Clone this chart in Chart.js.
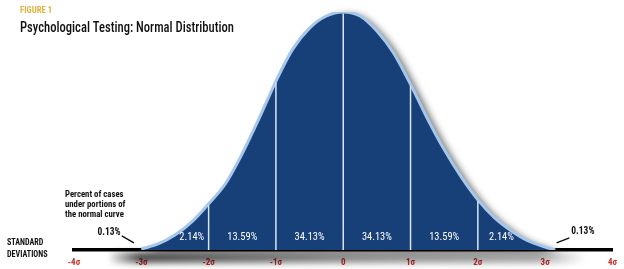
<!DOCTYPE html>
<html><head><meta charset="utf-8">
<script src="https://cdn.jsdelivr.net/npm/chart.js@4.4.0/dist/chart.umd.min.js"></script>
<style>html,body{margin:0;padding:0;background:#fff}#wrap{width:624px;height:269px;position:relative}</style>
</head><body><div id="wrap"><canvas id="c" width="624" height="269"></canvas></div>
<script>
const figureLabel = 'FIGURE 1';
const chartTitle = 'Psychological Testing: Normal Distribution';
const axisCaption = ['STANDARD', 'DEVIATIONS'];
const noteLines = ['Percent of cases', 'under portions of', 'the normal curve'];
const tickValues = [-4, -3, -2, -1, 0, 1, 2, 3, 4];
const tickLabels = ['-4σ', '-3σ', '-2σ', '-1σ', '0', '1σ', '2σ', '3σ', '4σ'];
const sigmaSteps = [-3, -2.75, -2.5, -2.25, -2, -1.75, -1.5, -1.25, -1, -0.75, -0.5, -0.25, 0, 0.25, 0.5, 0.75, 1, 1.25, 1.5, 1.75, 2, 2.25, 2.5, 2.75, 3, 3.15];
const curveHeight = [1, 6, 15, 28, 46, 66, 96, 131, 168, 200, 221, 233, 237, 233, 218, 196, 165, 131, 100, 73, 50, 32, 19, 9, 3, 0];
const dividerSigmas = [-2, -1, 0, 1, 2];
const innerPercents = ['2.14%', '13.59%', '34.13%', '34.13%', '13.59%', '2.14%'];
const innerLabelSigma = [-2.25, -1.5, -0.5, 0.5, 1.5, 2.35];
const tailPercents = ['0.13%', '0.13%'];

const NARROW = "'Liberation Sans Narrow','Arial Narrow','Roboto Condensed',Roboto,sans-serif";
const NAVY = '#173f78';

function squeezeText(ctx, text, x, y, sx) {
  ctx.save();
  ctx.translate(x, y);
  ctx.scale(sx, 1);
  ctx.fillText(text, 0, 0);
  ctx.restore();
}

const decor = {
  id: 'decor',
  beforeDatasetsDraw(chart) {
    const { ctx, scales: { x, y } } = chart;
    const meta = chart.getDatasetMeta(0);
    const y0 = y.getPixelForValue(0);
    // soft shadow under baseline
    ctx.save();
    ctx.filter = 'blur(3px)';
    const xa = x.getPixelForValue(-3.45), xb = x.getPixelForValue(3.6);
    const g = ctx.createLinearGradient(xa, 0, xb, 0);
    g.addColorStop(0, 'rgba(0,0,0,0.1)');
    g.addColorStop(0.06, 'rgba(0,0,0,0.7)');
    g.addColorStop(0.5, 'rgba(0,0,0,0.45)');
    g.addColorStop(0.9, 'rgba(0,0,0,0.35)');
    g.addColorStop(1, 'rgba(0,0,0,0)');
    ctx.fillStyle = g;
    ctx.fillRect(xa, y0 + 2, xb - xa, 11);
    ctx.restore();
    // drop shadow of the curve
    ctx.save();
    ctx.shadowColor = 'rgba(0,0,0,0.55)';
    ctx.shadowBlur = 7; ctx.shadowOffsetX = 5; ctx.shadowOffsetY = 2;
    ctx.beginPath();
    meta.dataset.path(ctx);
    const last = meta.data[meta.data.length - 1], first = meta.data[0];
    ctx.lineTo(last.x, y0); ctx.lineTo(first.x, y0); ctx.closePath();
    ctx.fillStyle = NAVY; ctx.fill();
    ctx.restore();
  },
  afterDatasetsDraw(chart) {
    const { ctx, scales: { x, y } } = chart;
    const meta = chart.getDatasetMeta(0);
    const y0 = y.getPixelForValue(0);
    ctx.save();
    ctx.strokeStyle = '#d8e7f7'; ctx.lineWidth = 1.5;
    dividerSigmas.forEach(s => {
      const pt = meta.data[sigmaSteps.indexOf(s)];
      ctx.beginPath(); ctx.moveTo(pt.x, y0); ctx.lineTo(pt.x, pt.y + 1.5); ctx.stroke();
    });
    // inner percentages
    ctx.fillStyle = '#fff';
    ctx.font = '11px ' + NARROW;
    ctx.textAlign = 'center'; ctx.textBaseline = 'middle';
    innerPercents.forEach((t, i) => squeezeText(ctx, t, x.getPixelForValue(innerLabelSigma[i]), y.getPixelForValue(13), 0.95));
    // tails
    ctx.fillStyle = '#111';
    ctx.font = 'bold 10px ' + NARROW;
    squeezeText(ctx, tailPercents[0], x.getPixelForValue(-3.48), y.getPixelForValue(17), 0.95);
    squeezeText(ctx, tailPercents[1], x.getPixelForValue(3.56), y.getPixelForValue(18), 0.95);
    ctx.strokeStyle = '#111'; ctx.lineWidth = 1.4;
    ctx.beginPath(); ctx.moveTo(x.getPixelForValue(-3.29), y.getPixelForValue(14)); ctx.lineTo(x.getPixelForValue(-3.11), y.getPixelForValue(7)); ctx.stroke();
    ctx.beginPath(); ctx.moveTo(x.getPixelForValue(3.17), y.getPixelForValue(7)); ctx.lineTo(x.getPixelForValue(3.36), y.getPixelForValue(12)); ctx.stroke();
    // note
    ctx.textAlign = 'left';
    ctx.font = 'bold 9px ' + NARROW;
    noteLines.forEach((t, i) => squeezeText(ctx, t, 65, y.getPixelForValue(55 - i * 10), 0.97));
    // axis caption
    ctx.font = 'bold 9.5px ' + NARROW;
    squeezeText(ctx, axisCaption[0], 7, y0 - 7, 0.85);
    squeezeText(ctx, axisCaption[1], 7, y0 + 5, 0.85);
    // titles
    ctx.textBaseline = 'alphabetic';
    ctx.fillStyle = '#e3b23c';
    ctx.font = 'bold 9.5px ' + NARROW;
    squeezeText(ctx, figureLabel, 20, 12.5, 0.92);
    ctx.fillStyle = '#111';
    ctx.font = '500 15px ' + NARROW;
    squeezeText(ctx, chartTitle, 20, 31.5, 0.84);
    ctx.restore();
  }
};

new Chart(document.getElementById('c'), {
  type: 'line',
  data: {
    datasets: [{
      data: sigmaSteps.map((s, i) => ({ x: s, y: curveHeight[i] })),
      borderColor: '#a6c6ea', borderWidth: 3,
      backgroundColor: NAVY, fill: 'origin',
      pointRadius: 0, cubicInterpolationMode: 'monotone'
    }]
  },
  options: {
    responsive: false, animation: false, devicePixelRatio: 1,
    layout: { padding: { left: 74, right: 10, top: 12, bottom: 0 } },
    plugins: { legend: { display: false }, tooltip: { enabled: false }, title: { display: false } },
    scales: {
      x: {
        type: 'linear', min: -4, max: 4, z: 1,
        grid: { display: false, drawTicks: false },
        border: { display: true, color: '#000', width: 3.5 },
        afterBuildTicks: s => { s.ticks = tickValues.map(v => ({ value: v })); },
        afterFit: s => { s.height = 19; },
        ticks: {
          padding: 7, color: '#c8322d', maxRotation: 0, autoSkip: false,
          font: { family: NARROW, size: 9, weight: 'bold' },
          callback: (v, i) => tickLabels[i]
        }
      },
      y: { display: false, min: 0, max: 237 }
    }
  },
  plugins: [decor]
});
</script></body></html>
